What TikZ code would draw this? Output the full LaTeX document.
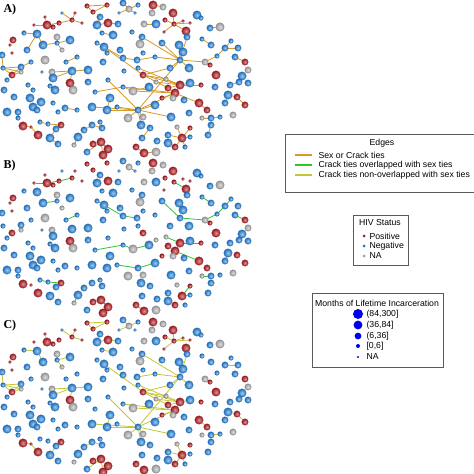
\documentclass[tikz,border=0pt]{standalone}
\usepackage{fontspec}
\setmainfont{Liberation Sans}
\newfontfamily\panelfont{Liberation Serif}
\usepackage{tikz}
\usetikzlibrary{backgrounds}
\definecolor{hivPos}{HTML}{A0141A}
\definecolor{hivNeg}{HTML}{1A72C4}
\definecolor{hivNA}{HTML}{9A9A9A}
\definecolor{tieAny}{HTML}{D69A28}
\definecolor{tieOver}{HTML}{30C430}
\definecolor{tieNon}{HTML}{C6C632}
\definecolor{legBlue}{HTML}{0000EE}
\definecolor{legRule}{HTML}{5A5A5A}

% vertices: id/x/y/HIV status/incarceration class
\def\netnodes{1/87/6/r/2, 2/93/12/r/2, 3/107/5/r/2, 4/123/3/b/3, 5/129/9/g/3,
  6/138/5/b/2, 7/135/13/b/1, 8/119/13/b/1, 9/153/5/r/4, 10/163/7/g/3,
  11/152/13/g/3, 12/173/13/r/4, 13/197/15/b/4, 14/201/18/b/2, 15/34/25/r/1,
  16/47/25/r/4, 17/45/17/r/1, 18/53/27/r/2, 19/59/23/r/2, 20/62/13/b/1,
  21/72/20/r/2, 22/75/13/r/1, 23/82/23/r/1, 24/100/17/b/3, 25/97/25/b/4,
  26/108/23/r/4, 27/118/24/b/3, 28/144/24/g/3, 29/156/24/b/4, 30/165/20/r/2,
  31/174/24/r/2, 32/183/21/r/1, 33/164/32/r/1, 34/186/31/r/4, 35/190/23/r/1,
  36/210/28/b/3, 37/220/27/g/4, 38/24/33/b/2, 39/37/34/b/4, 40/57/37/g/3,
  41/70/40/b/4, 42/43/45/b/4, 43/57/43/b/2, 44/27/50/b/3, 45/62/50/g/2,
  46/102/33/b/2, 47/113/35/b/4, 48/132/32/b/2, 49/142/37/b/3, 50/140/44/g/4,
  51/162/43/b/3, 52/179/45/b/4, 53/187/37/b/3, 54/202/39/b/2, 55/211/45/b/3,
  56/225/48/b/3, 57/238/48/b/3, 58/231/41/b/2, 59/13/40/r/3, 60/10/45/r/1,
  61/12/53/r/1, 62/2/55/b/3, 63/97/43/b/2, 64/104/47/b/4, 65/107/53/b/2,
  66/120/50/b/3, 67/143/53/b/2, 68/183/52/b/4, 69/45/60/g/4, 70/66/62/b/2,
  71/77/57/b/2, 72/103/62/b/3, 73/123/58/b/3, 74/137/60/b/3, 75/155/57/b/2,
  76/180/60/b/3, 77/205/62/g/3, 78/217/56/b/2, 79/235/57/b/3, 80/245/62/r/3,
  81/248/70/g/3, 82/31/62/b/2, 83/21/67/b/3, 84/3/68/b/2, 85/12/75/r/3,
  86/21/72/g/2, 87/52/72/g/3, 88/72/71/b/4, 89/88/70/b/4, 90/42/72/b/1,
  91/53/78/b/4, 92/70/83/r/4, 93/88/82/b/3, 94/50/86/b/2, 95/124/71/b/2,
  96/138/68/b/2, 97/143/75/r/3, 98/170/68/b/3, 99/189/68/b/4, 100/210/65/r/2,
  101/216/75/r/4, 102/242/76/b/4, 103/7/80/b/2, 104/4/90/b/3, 105/108/80/b/2,
  106/123/87/b/2, 107/133/91/g/4, 108/149/87/b/4, 109/156/82/g/2, 110/166/79/g/2,
  111/180/85/r/4, 112/190/83/b/4, 113/175/93/r/4, 114/168/88/r/3, 115/201/85/r/2,
  116/215/87/b/3, 117/230/85/b/3, 118/239/82/b/3, 119/248/83/b/3, 120/28/85/b/2,
  121/33/90/b/2, 122/55/90/b/4, 123/73/90/g/4, 124/95/92/b/2, 125/110/98/b/4,
  126/162/98/r/2, 127/173/98/g/3, 128/184/100/b/3, 129/199/103/r/4, 130/207/110/r/3,
  131/225/103/b/3, 132/237/97/r/3, 133/228/95/b/4, 134/245/105/r/3, 135/14/97/b/3,
  136/33/107/b/4, 137/30/98/b/4, 138/41/102/b/4, 139/7/112/b/4, 140/18/112/b/3,
  141/37/110/b/3, 142/53/103/b/2, 143/65/108/b/3, 144/58/112/b/2, 145/77/110/b/2,
  146/92/107/b/4, 147/107/110/b/4, 148/117/107/b/2, 149/128/118/g/4, 150/138/110/b/3,
  151/143/117/g/3, 152/155/105/b/4, 153/171/117/b/4, 154/189/113/b/3, 155/202/118/g/2,
  156/211/118/b/3, 157/220/117/b/2, 158/233/115/g/3, 159/18/118/b/2, 160/23/126/r/4,
  161/38/135/r/4, 162/31/127/r/1, 163/40/122/b/2, 164/48/124/b/2, 165/61/125/r/3,
  166/50/138/b/4, 167/56/129/b/3, 168/58/144/b/3, 169/84/130/b/3, 170/92/125/b/3,
  171/102/128/b/3, 172/100/122/b/2, 173/78/137/b/4, 174/74/145/g/2, 175/93/144/r/3,
  176/101/142/r/4, 177/108/149/r/4, 178/103/155/r/4, 179/87/152/b/3, 180/141/125/b/4,
  181/150/128/b/3, 182/142/138/b/3, 183/157/141/b/3, 184/136/147/r/3, 185/144/153/r/4,
  186/156/152/g/4, 187/168/135/b/3, 188/168/143/b/4, 189/177/127/g/2, 190/182/138/r/4,
  191/190/128/r/2, 192/190/137/b/2, 193/175/147/r/3, 194/185/147/b/2, 195/208/135/b/3,
  196/211/125/b/3}

% crack ties overlapped with sex ties
\def\crackover{15/16, 16/19, 19/21, 5/7, 31/34, 42/43, 70/71, 63/64, 64/73, 73/74,
  51/76, 76/77, 77/78, 78/56, 56/58, 54/55, 79/80, 110/111, 111/115, 113/129,
  111/127, 124/106, 106/107, 107/108, 148/150, 150/152, 163/164, 164/165, 131/133,
  155/156, 175/176, 176/177, 173/174, 190/192, 190/191, 184/185}
% crack ties non-overlapped with sex ties
\def\cracknon{84/85, 84/83, 83/85, 85/86, 62/84, 84/86, 83/86, 1/2, 2/3, 1/3, 4/5,
  5/6, 5/8, 12/31, 30/31, 31/32, 31/33, 31/35, 16/17, 21/22, 21/23, 20/21, 39/42,
  40/43, 41/43, 43/45, 38/39, 46/47, 24/25, 25/26, 26/27, 75/76, 52/76, 68/76,
  76/98, 76/99, 53/76, 49/76, 76/150, 74/75, 56/57, 64/97, 97/98, 97/111, 97/114,
  111/114, 113/114, 111/113, 113/126, 113/127, 111/112, 109/111, 106/113, 107/113,
  96/111, 97/110, 147/150, 146/150, 149/150, 150/151, 150/180, 150/153, 113/150,
  105/150, 125/147, 169/170, 170/171, 171/172, 176/178, 176/179, 160/162, 161/162,
  166/167, 189/190, 187/190, 190/193, 190/194, 156/157, 129/130, 132/134, 132/133,
  87/88, 88/89, 88/91, 88/92}
% sex ties only
\def\sexonly{9/11, 9/10, 44/39, 82/83, 117/118, 140/159, 168/166, 181/182, 185/186,
  195/196, 143/145, 28/29, 36/37}

\begin{document}
\begin{tikzpicture}[
  x=1pt,y=-1pt,
  font=\fontsize{8.7}{10}\selectfont,
  vertex/.style={circle,inner sep=0pt,line width=0.3pt},
  hivr/.style={inner color=hivPos!45!white,outer color=hivPos,draw=hivPos!80!black},
  hivb/.style={inner color=hivNeg!40!white,outer color=hivNeg,draw=hivNeg!80!black},
  hivg/.style={inner color=hivNA!35!white,outer color=hivNA,draw=hivNA!75!black},
  dot1/.style={minimum size=3pt},
  dot2/.style={minimum size=4.6pt},
  dot3/.style={minimum size=6.4pt},
  dot4/.style={minimum size=8.4pt},
  tie/.style={line width=0.8pt},
  legframe/.style={draw=legRule,line width=0.6pt},
  panel/.style={anchor=west,font=\panelfont\bfseries\fontsize{12}{12}\selectfont}
]
\useasboundingbox (0,0) rectangle (474,474);
\clip (0,0) rectangle (474,474);

% the three copies of the network
\foreach \p/\off in {A/0,B/158,C/317}{
  \foreach \i/\x/\y/\c/\s in \netnodes
    \node[vertex,hiv\c,dot\s] (\p\i) at (\x,{\y+\off}) {};
}

\begin{pgfonlayer}{background}
\foreach \a/\b in \crackover \draw[tie,tieAny] (A\a) -- (A\b);
\foreach \a/\b in \cracknon  \draw[tie,tieAny] (A\a) -- (A\b);
\foreach \a/\b in \sexonly   \draw[tie,tieAny] (A\a) -- (A\b);
\foreach \a/\b in \crackover \draw[tie,tieOver] (B\a) -- (B\b);
\foreach \a/\b in \cracknon  \draw[tie,tieNon] (C\a) -- (C\b);
\end{pgfonlayer}

\node[panel] (labA) at (0,10)  {A)};
\node[panel] (labB) at (0,166) {B)};
\node[panel] (labC) at (0,326) {C)};

% legend: edges
\draw[legframe] (285,134) rectangle (482,192);
\node (edgeTitle) at (382,143) {Edges};
\node[anchor=west] (keyAny)  at (315,155) {Sex or Crack ties};
\node[anchor=west] (keyOver) at (315,165) {Crack ties overlapped with sex ties};
\node[anchor=west] (keyNon)  at (315,175) {Crack ties non-overlapped with sex ties};
\draw[line width=1.1pt,tieAny]  ([xshift=-20pt]keyAny.west)  -- ++(17,0);
\draw[line width=1.1pt,tieOver] ([xshift=-20pt]keyOver.west) -- ++(17,0);
\draw[line width=1.1pt,tieNon]  ([xshift=-20pt]keyNon.west)  -- ++(17,0);

% legend: HIV status
\draw[legframe] (353,215) rectangle (408,265);
\node (hivTitle) at (380,223) {HIV Status};
\foreach \t/\col/\yy in {Positive/hivPos/236,Negative/hivNeg/246,NA/hivNA/256}{
  \node[anchor=west] (hiv\t) at (366,\yy) {\t};
  \fill[\col] ([xshift=-2pt]hiv\t.west) circle (1.5);
}

% legend: months of lifetime incarceration
\draw[legframe] (312,293) rectangle (443,367);
\node (monTitle) at (377,303) {Months of Lifetime Incarceration};
\foreach \k/\t/\r/\yy in {1/{(84,300]}/5/314,2/{(36,84]}/4.4/325,3/{(6,36]}/3.4/336,
                        4/{[0,6]}/2/346,5/{NA}/1.2/357}{
  \node[anchor=west] (mon\k) at (363,\yy) {\t};
  \fill[legBlue] (358,\yy) circle (\r);
}
\end{tikzpicture}
\end{document}
